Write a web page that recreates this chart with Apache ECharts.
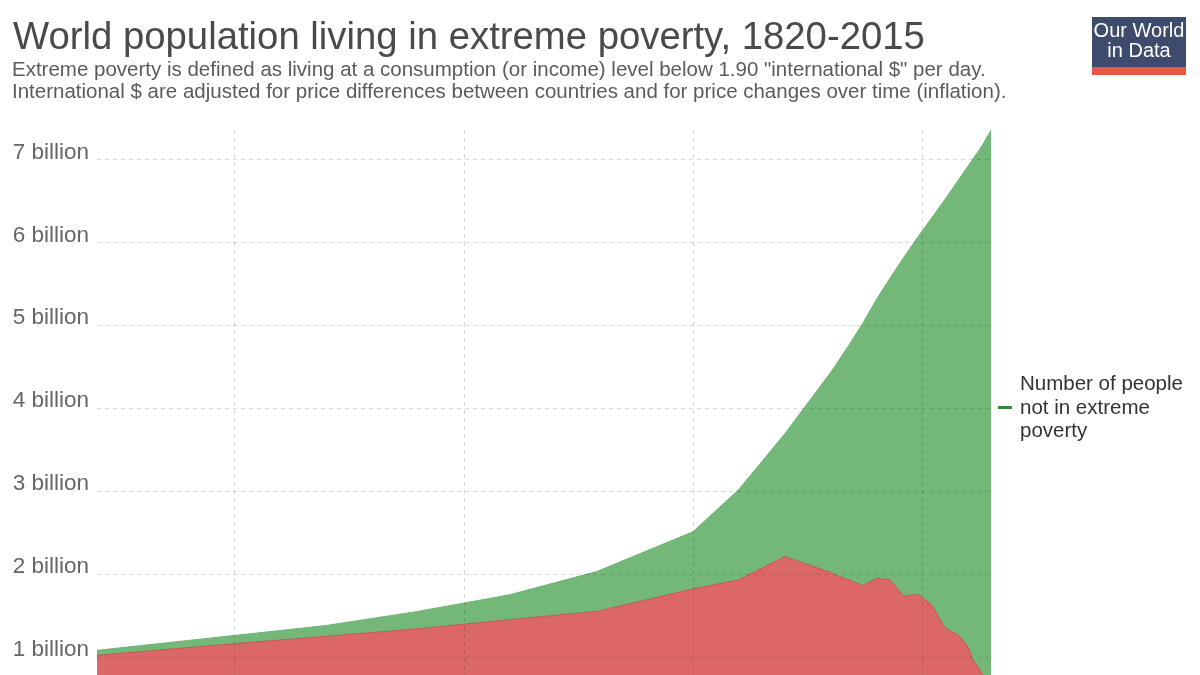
<!DOCTYPE html>
<html lang="en">
<head>
    <meta charset="UTF-8">
    <title>World population living in extreme poverty, 1820-2015</title>
    <script src="https://cdn.jsdelivr.net/npm/echarts@6/dist/echarts.min.js"></script>
    <style>
        html, body { margin: 0; padding: 0; background: #fff; }
        #chart { width: 1200px; height: 675px; }
    </style>
</head>
<body>
<div id="chart"></div>
<script type="text/javascript">
    // values in billions of people
    var years = [1820, 1850, 1870, 1890, 1910, 1929, 1950, 1960, 1970, 1980, 1981, 1984, 1987,
        1990, 1993, 1996, 1999, 2002, 2005, 2008, 2010, 2011, 2012, 2013, 2015];
    var inPoverty = [1.02, 1.16, 1.25, 1.34, 1.45, 1.55, 1.82, 1.93, 2.21, 2.02, 1.99, 1.93, 1.86,
        1.95, 1.93, 1.73, 1.76, 1.63, 1.35, 1.26, 1.12, 0.97, 0.89, 0.80, 0.70];
    var notInPoverty = [0.06, 0.10, 0.13, 0.21, 0.30, 0.48, 0.69, 1.09, 1.48, 2.41, 2.52, 2.83, 3.16,
        3.36, 3.64, 4.09, 4.30, 4.66, 5.17, 5.50, 5.80, 6.03, 6.19, 6.36, 6.65];
    var gridYears = [1850, 1900, 1950, 2000];
    var yTicks = [1, 2, 3, 4, 5, 6, 7];

    // red area sits at the bottom, green area goes from the red line up to the total
    function povertyPoints() {
        var out = [];
        for (var i = 0; i < years.length; i++) out.push([years[i], inPoverty[i]]);
        return out;
    }
    function totalPoints() {
        var out = [];
        for (var i = 0; i < years.length; i++) out.push([years[i], inPoverty[i] + notInPoverty[i]]);
        return out;
    }

    var font = '"Liberation Sans", Arial, sans-serif';
    var narrow = '"Liberation Sans Narrow", "Liberation Sans", Arial, sans-serif';
    var gridLine = {type: [4, 4], color: 'rgba(0,0,0,0.15)', width: 1};

    var chart = echarts.init(document.getElementById('chart'));
    chart.setOption({
        animation: false,
        textStyle: {fontFamily: font},
        title: [{
            text: 'World population living in extreme poverty, 1820-2015',
            left: 8, top: 14,
            textStyle: {fontSize: 38.3, fontWeight: 'normal', color: '#4a4a4a', fontFamily: font}
        }, {
            text: 'Extreme poverty is defined as living at a consumption (or income) level below 1.90 "international $" per day.\n' +
                'International $ are adjusted for price differences between countries and for price changes over time (inflation).',
            left: 7, top: 54,
            textStyle: {fontSize: 20.5, fontWeight: 'normal', color: '#5b5b5b', lineHeight: 22, fontFamily: font}
        }],
        graphic: [{
            type: 'group', left: 1092, top: 17,
            children: [
                {type: 'rect', shape: {x: 0, y: 0, width: 94, height: 50}, style: {fill: '#3e4b6c'}},
                {type: 'rect', shape: {x: 0, y: 50, width: 94, height: 8}, style: {fill: '#e25a40'}},
                {type: 'text', style: {x: 47, y: 14, text: 'Our World', fill: '#fff', font: '20px ' + narrow, align: 'center', verticalAlign: 'middle'}},
                {type: 'text', style: {x: 47, y: 34, text: 'in Data', fill: '#fff', font: '20px ' + narrow, align: 'center', verticalAlign: 'middle'}}
            ]
        }, {
            type: 'rect', left: 998, top: 406,
            shape: {width: 14, height: 3}, style: {fill: '#2d8f35'}
        }, {
            type: 'text', left: 1020, top: 373,
            style: {
                text: 'Number of people\nnot in extreme\npoverty',
                font: '20.5px ' + font, fill: '#333', lineHeight: 23.5
            }
        }],
        grid: {left: 97, right: 209, top: 130, bottom: 0},
        xAxis: {
            type: 'value', min: 1820, max: 2015, z: 10,
            axisLine: {show: false}, axisTick: {show: false, customValues: gridYears},
            axisLabel: {show: false, customValues: gridYears},
            splitLine: {show: true, customValues: gridYears, lineStyle: gridLine}
        },
        yAxis: {
            // the picture is cut off at the bottom, so the visible range starts near 0.78 billion
            type: 'value', min: 0.783, max: 7.354, z: 10,
            axisLine: {show: false},
            axisTick: {show: false, customValues: yTicks},
            axisLabel: {
                show: true, margin: 8, fontSize: 22.5, color: '#666', lineHeight: 14,
                verticalAlign: 'bottom', fontFamily: font, customValues: yTicks,
                formatter: function (v) { return v + ' billion'; }
            },
            splitLine: {show: true, customValues: yTicks, lineStyle: gridLine}
        },
        series: [{
            name: 'Number of people not in extreme poverty',
            type: 'line', showSymbol: false, z: 1,
            data: totalPoints(),
            lineStyle: {width: 1, color: '#6fb574'},
            itemStyle: {color: '#2d8f35'},
            areaStyle: {color: '#73b878', opacity: 1}
        }, {
            name: 'Number of people in extreme poverty',
            type: 'line', showSymbol: false, z: 2,
            data: povertyPoints(),
            lineStyle: {width: 1, color: '#c95757'},
            itemStyle: {color: '#c95757'},
            areaStyle: {color: '#dc6767', opacity: 1}
        }]
    });
</script>
</body>
</html>
